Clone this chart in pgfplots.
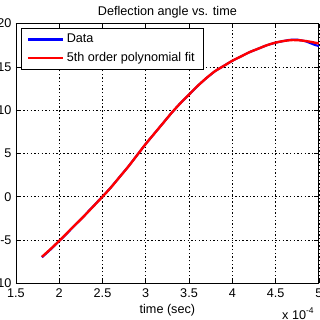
\documentclass[border=0pt]{standalone}
\usepackage{fontspec}
\setmainfont{Liberation Sans}
\usepackage{pgfplots}
\pgfplotsset{compat=1.18}
\begin{document}
\begin{tikzpicture}
\fontsize{9}{10.8}\selectfont
\clip (-0.4,-0.92) rectangle (7.6,7.085);
\begin{axis}[
  at={(0,0)}, anchor=south west, scale only axis,
  width=7.575cm, height=6.495cm,
  xmin=1.5, xmax=5, ymin=-10, ymax=20,
  xtick={1.5,2,2.5,3,3.5,4,4.5,5},
  xticklabels={1.5,2,2.5,3,3.5,4,4.5,5},
  ytick={-10,-5,0,5,10,15,20},
  yticklabels={-10,-5,0,5,10,15,20},
  tick align=inside, major tick length=0.12cm,
  tick style={black, line width=0.4pt},
  grid=major,
  major grid style={black, dash pattern=on 1pt off 1.6pt, line width=0.4pt},
  axis line style={black, line width=0.5pt},
  font=\fontsize{9}{10.8}\selectfont,
  ticklabel style={font=\fontsize{9}{10.8}\selectfont},
  xticklabel style={anchor=base, yshift=-0.36cm},
  every axis title shift=0pt,
  title={Deflection angle vs. time},
  title style={at={(0.5,1)}, anchor=base, yshift=0.2125cm},
  xlabel={time (sec)},
  xlabel style={at={(0.5,0)}, anchor=base, yshift=-0.75cm},
  legend cell align=left,
  legend style={at={(0.0155,0.982)}, anchor=north west, draw=black, line width=0.4pt,
    fill=white, inner xsep=4pt, inner ysep=2pt, row sep=1.5pt,
    font=\fontsize{9}{10.8}\selectfont},
  legend image code/.code={\draw[#1] (0cm,0cm) -- (0.875cm,0cm);},
]
\addplot[blue, line width=1.5pt] coordinates {
(1.80,-7.0)(1.85,-6.55)(1.90,-6.1)(1.95,-5.6)(2.00,-5.1)(2.05,-4.65)(2.10,-4.15)
(2.15,-3.6)(2.20,-3.1)(2.25,-2.6)(2.30,-2.1)(2.35,-1.55)(2.40,-1.05)(2.45,-0.5)
(2.50,0.0)(2.55,0.55)(2.60,1.1)(2.65,1.7)(2.70,2.3)(2.75,2.9)(2.80,3.5)(2.85,4.15)
(2.90,4.8)(2.95,5.45)(3.00,6.1)(3.05,6.7)(3.10,7.3)(3.15,7.9)(3.20,8.5)(3.25,9.1)
(3.30,9.7)(3.35,10.25)(3.40,10.8)(3.45,11.3)(3.50,11.8)(3.55,12.3)(3.60,12.8)
(3.65,13.25)(3.70,13.7)(3.75,14.1)(3.80,14.5)(3.85,14.8)(3.90,15.1)(3.95,15.4)
(4.00,15.7)(4.05,15.95)(4.10,16.2)(4.15,16.45)(4.20,16.7)(4.25,16.9)(4.30,17.1)
(4.35,17.3)(4.40,17.5)(4.45,17.65)(4.50,17.8)(4.55,17.9)(4.60,18.0)(4.65,18.1)
(4.70,18.15)(4.75,18.15)(4.80,18.05)(4.85,17.95)(4.90,17.75)(4.95,17.55)(5.00,17.4)
};
\addlegendentry{Data}
\addplot[red, line width=1.7pt, smooth] coordinates {
(1.80,-6.95)(1.90,-6.05)(2.00,-5.1)(2.10,-4.1)(2.20,-3.1)(2.30,-2.1)(2.40,-1.05)
(2.50,0.0)(2.60,1.1)(2.70,2.3)(2.80,3.5)(2.90,4.8)(3.00,6.1)(3.10,7.3)(3.20,8.5)
(3.30,9.7)(3.40,10.8)(3.50,11.8)(3.60,12.8)(3.70,13.7)(3.80,14.5)(3.90,15.1)
(4.00,15.7)(4.10,16.2)(4.20,16.7)(4.30,17.1)(4.40,17.5)(4.50,17.8)(4.60,18.0)
(4.70,18.1)(4.80,18.05)(4.90,17.9)(5.00,17.7)
};
\addlegendentry{5th order polynomial fit}
\end{axis}
\node[anchor=base east] at (7.575,-0.9) {x 10\textsuperscript{-4}};
\end{tikzpicture}
\end{document}
